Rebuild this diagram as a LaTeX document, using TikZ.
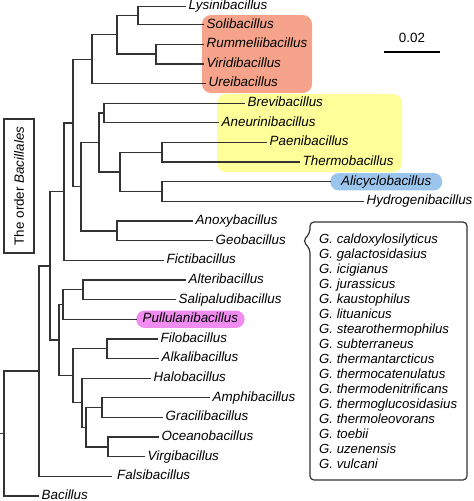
\documentclass[tikz,border=0pt]{standalone}
\usepackage{fontspec}
\setmainfont{Liberation Sans}
\usepackage{xcolor}
\usetikzlibrary{positioning}
\definecolor{salmon}{HTML}{F5A48B}
\definecolor{lightyel}{HTML}{FFFF99}
\definecolor{skyblu}{HTML}{9CC5EE}
\definecolor{orchid}{HTML}{F08CF0}
\definecolor{treeline}{HTML}{333333}
\newcommand{\treefont}{\fontsize{13.4}{15}\selectfont}
\tikzset{
  branch/.style={line width=1.3pt, draw=treeline, line cap=rect},
  leaf/.style={anchor=west, inner xsep=3.5pt, inner ysep=0pt, text height=9.6pt,
               text depth=2.8pt, font=\treefont\itshape},
  pill/.style={rounded corners=8.5pt, inner ysep=2.5pt},
  geo/.style={anchor=west, inner sep=0pt, text height=9.5pt, text depth=2.7pt,
              font=\fontsize{13.2}{15}\selectfont\itshape},
  hilite/.style={rounded corners=9pt},
  ordbox/.style={draw=treeline, line width=1.2pt, rotate=90, minimum width=134pt,
                 minimum height=30pt, inner sep=0pt, font=\treefont},
  callout/.style={draw=treeline, line width=1.2pt, rounded corners=4pt},
}
\newcommand{\clade}[3]{\draw[branch] (#1) |- (#2) (#1) |- (#3);}

\begin{document}
\begin{tikzpicture}[x=1pt, y=-1pt]
    \useasboundingbox (0,0) rectangle (474,501);
    \fill[salmon, hilite] (202,15) rectangle (312,93);
    \fill[lightyel, hilite] (217,94) rectangle (402,172);

    \node[leaf] (lysini) at (185,6.4) {Lysinibacillus};
    \node[leaf] (soli) at (203,24.64) {Solibacillus};
    \node[leaf] (rummel) at (203,44.28) {Rummeliibacillus};
    \node[leaf] (viridi) at (203,63.92) {Viridibacillus};
    \node[leaf] (urei) at (205,83.56) {Ureibacillus};
    \node[leaf] (brevi) at (244,103.2) {Brevibacillus};
    \node[leaf] (aneuri) at (218,122.84) {Aneurinibacillus};
    \node[leaf] (paeni) at (266,142.48) {Paenibacillus};
    \node[leaf] (thermo) at (299,162.12) {Thermobacillus};
    \node[leaf, pill, fill=skyblu, inner xsep=11pt] (alicy) at (330,181.76) {Alicyclobacillus};
    \node[leaf] (hydro) at (363,201.4) {Hydrogenibacillus};
    \node[leaf] (anoxy) at (192,221.04) {Anoxybacillus};
    \node[leaf] (geo) at (212,240.68) {Geobacillus};
    \node[leaf] (ficti) at (163,260.32) {Fictibacillus};
    \node[leaf] (alteri) at (185,279.96) {Alteribacillus};
    \node[leaf] (salipa) at (175,299.6) {Salipaludibacillus};
    \node[leaf, pill, fill=orchid, inner xsep=6.5pt] (pullu) at (136,319.24) {Pullulanibacillus};
    \node[leaf] (filo) at (157,338.88) {Filobacillus};
    \node[leaf] (alkali) at (158,358.52) {Alkalibacillus};
    \node[leaf] (halo) at (150,378.16) {Halobacillus};
    \node[leaf] (amphi) at (209,397.8) {Amphibacillus};
    \node[leaf] (graci) at (162,417.44) {Gracilibacillus};
    \node[leaf] (oceano) at (158,437.08) {Oceanobacillus};
    \node[leaf] (virgi) at (144,456.72) {Virgibacillus};
    \node[leaf, inner xsep=6pt] (falsi) at (111,476.36) {Falsibacillus};
    \node[leaf] (bacil) at (38,496) {Bacillus};

    \coordinate (nLysSol) at (138,15.52);
    \coordinate (nRumVir) at (156,54.1);
    \coordinate (nLysVir) at (117,34.81);
    \coordinate (nLysUre) at (92,59.19);
    \coordinate (nBreAne) at (104,113.02);
    \coordinate (nPaeThe) at (162,152.3);
    \coordinate (nAliHyd) at (162,191.58);
    \coordinate (nPaeHyd) at (120,171.94);
    \coordinate (nBreHyd) at (99,142.48);
    \coordinate (nAnoGeo) at (117,230.86);
    \coordinate (nBreGeo) at (81,186.67);
    \coordinate (nLysGeo) at (73,122.93);
    \coordinate (nLysFic) at (64,191.63);
    \coordinate (nAltSal) at (83,289.78);
    \coordinate (nAltPul) at (63,304.51);
    \coordinate (nFilAlk) at (107,348.7);
    \coordinate (nAmpGra) at (102,407.62);
    \coordinate (nOceVir) at (108,446.9);
    \coordinate (nAmpVir) at (86,427.26);
    \coordinate (nHalVir) at (82,402.71);
    \coordinate (nFilVir) at (73,375.7);
    \coordinate (nAltVir) at (59,340.1);
    \coordinate (nIngroup) at (50,265.87);
    \coordinate (nCore) at (39,371.1);
    \coordinate (nRoot) at (4,433.55);
    \coordinate (rootstub) at (0,433.55);

    \clade{nLysSol}{lysini.west}{soli.west}
    \clade{nRumVir}{rummel.west}{viridi.west}
    \clade{nLysVir}{nLysSol}{nRumVir}
    \clade{nLysUre}{nLysVir}{urei.west}
    \clade{nBreAne}{brevi.west}{aneuri.west}
    \clade{nPaeThe}{paeni.west}{thermo.west}
    \clade{nAliHyd}{alicy.west}{hydro.west}
    \clade{nPaeHyd}{nPaeThe}{nAliHyd}
    \clade{nBreHyd}{nBreAne}{nPaeHyd}
    \clade{nAnoGeo}{anoxy.west}{geo.west}
    \clade{nBreGeo}{nBreHyd}{nAnoGeo}
    \clade{nLysGeo}{nLysUre}{nBreGeo}
    \clade{nLysFic}{nLysGeo}{ficti.west}
    \clade{nAltSal}{alteri.west}{salipa.west}
    \clade{nAltPul}{nAltSal}{pullu.west}
    \clade{nFilAlk}{filo.west}{alkali.west}
    \clade{nAmpGra}{amphi.west}{graci.west}
    \clade{nOceVir}{oceano.west}{virgi.west}
    \clade{nAmpVir}{nAmpGra}{nOceVir}
    \clade{nHalVir}{halo.west}{nAmpVir}
    \clade{nFilVir}{nFilAlk}{nHalVir}
    \clade{nAltVir}{nAltPul}{nFilVir}
    \clade{nIngroup}{nLysFic}{nAltVir}
    \clade{nCore}{nIngroup}{falsi.west}
    \clade{nRoot}{nCore}{bacil.west}
    \draw[branch] (rootstub) -- (nRoot);

    \node[ordbox] (order) at (19,186) {The order \textit{Bacillales}};

    \coordinate (sbL) at (384,52);
    \coordinate (sbR) at (440,52);
    \draw[line width=2.8pt, black] (sbL) -- (sbR);
    \node[font=\treefont, inner sep=0pt] (sblab) at (412,38) {0.02};

    \draw[callout] (310,300) -- (310,249) -- (303,241) -- (310,233) -- (310,222)
        -- (467,222) -- (467,480) -- (310,480) -- cycle;
    \foreach \sp [count=\i] in {caldoxylosilyticus, galactosidasius, icigianus,
        jurassicus, kaustophilus, lituanicus, stearothermophilus, subterraneus,
        thermantarcticus, thermocatenulatus, thermodenitrificans,
        thermoglucosidasius, thermoleovorans, toebii, uzenensis, vulcani}
      \node[geo] (g\i) at (319,{240+15*(\i-1)}) {G. \sp};
\end{tikzpicture}
\end{document}
